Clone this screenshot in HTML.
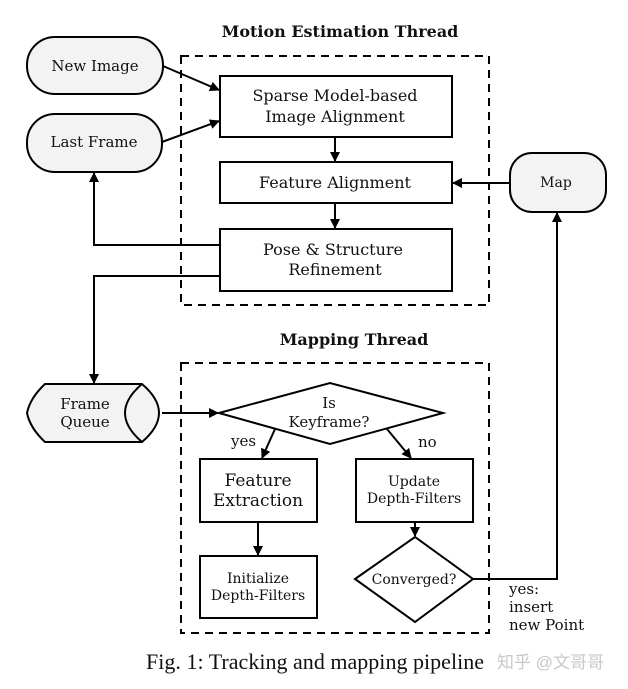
<!DOCTYPE html>
<html><head><meta charset="utf-8"><style>
html,body{margin:0;padding:0;background:#fff;}
svg{display:block;}
text{font-family:"DejaVu Serif","Liberation Serif",serif;fill:#111;}
</style></head><body>
<svg width="628" height="689" viewBox="0 0 628 689" xmlns="http://www.w3.org/2000/svg">
<defs>
<marker id="a" markerWidth="10" markerHeight="10" refX="9" refY="5" orient="auto" markerUnits="userSpaceOnUse">
<path d="M0,0 L10,5 L0,10 z" fill="#000"/></marker>
</defs>
<g stroke="#000" stroke-width="2" fill="none">
<rect x="181" y="56" width="308" height="249" stroke-dasharray="8,6"/>
<rect x="181" y="363" width="308" height="270" stroke-dasharray="8,6"/>
</g>
<text x="340" y="37" font-size="16" font-weight="bold" text-anchor="middle">Motion Estimation Thread</text>
<text x="354" y="345" font-size="16" font-weight="bold" text-anchor="middle">Mapping Thread</text>
<g stroke="#000" stroke-width="2" fill="#f3f3f3">
<rect x="27" y="37" width="136" height="57" rx="28"/>
<rect x="27" y="114" width="135" height="58" rx="28"/>
<rect x="510" y="153" width="96" height="59" rx="22"/>
<path d="M45,384 L142,384 Q176,413 142,442 L45,442 Q30,428 27,413 Q30,398 45,384 Z"/>
<path d="M142,384 Q108,413 142,442" fill="none"/>
</g>
<g stroke="#000" stroke-width="2" fill="#fff">
<rect x="220" y="76" width="232" height="61"/>
<rect x="220" y="162" width="232" height="41"/>
<rect x="220" y="229" width="232" height="62"/>
<polygon points="219,413 330,383 443,413 330,444"/>
<rect x="200" y="459" width="117" height="63"/>
<rect x="356" y="459" width="117" height="63"/>
<rect x="200" y="556" width="117" height="62"/>
<polygon points="355,579 415,537 473,579 415,622"/>
</g>
<g stroke="#000" stroke-width="2" fill="none">
<line x1="163" y1="66" x2="219" y2="90" marker-end="url(#a)"/>
<line x1="162" y1="142" x2="219" y2="121" marker-end="url(#a)"/>
<line x1="335" y1="137" x2="335" y2="161" marker-end="url(#a)"/>
<line x1="335" y1="203" x2="335" y2="228" marker-end="url(#a)"/>
<line x1="510" y1="183" x2="453" y2="183" marker-end="url(#a)"/>
<polyline points="220,245 94,245 94,173" marker-end="url(#a)"/>
<polyline points="220,276 94,276 94,383" marker-end="url(#a)"/>
<line x1="162" y1="413" x2="218" y2="413" marker-end="url(#a)"/>
<line x1="275" y1="429" x2="262" y2="458" marker-end="url(#a)"/>
<line x1="387" y1="429" x2="411" y2="458" marker-end="url(#a)"/>
<line x1="258" y1="522" x2="258" y2="555" marker-end="url(#a)"/>
<line x1="415" y1="522" x2="415" y2="536" marker-end="url(#a)"/>
<polyline points="473,579 557,579 557,213" marker-end="url(#a)"/>
</g>
<g font-size="16" text-anchor="middle">
<text x="95" y="71" font-size="15">New Image</text>
<text x="94" y="147" font-size="15">Last Frame</text>
<text x="556" y="187" font-size="14">Map</text>
<text x="335" y="101">Sparse Model-based</text>
<text x="335" y="122">Image Alignment</text>
<text x="335" y="188">Feature Alignment</text>
<text x="333" y="255">Pose &amp; Structure</text>
<text x="335" y="275">Refinement</text>
<text x="85" y="409" font-size="15">Frame</text>
<text x="85" y="427" font-size="15">Queue</text>
<text x="329" y="408" font-size="15">Is</text>
<text x="329" y="427" font-size="15">Keyframe?</text>
<text x="258" y="486" font-size="17">Feature</text>
<text x="258" y="506" font-size="17">Extraction</text>
<text x="414" y="486" font-size="14">Update</text>
<text x="414" y="503" font-size="14">Depth-Filters</text>
<text x="258" y="583" font-size="14">Initialize</text>
<text x="258" y="600" font-size="14">Depth-Filters</text>
<text x="414" y="584" font-size="14">Converged?</text>
</g>
<g font-size="15">
<text x="231" y="446">yes</text>
<text x="418" y="447">no</text>
<text x="509" y="594">yes:</text>
<text x="509" y="612">insert</text>
<text x="509" y="630">new Point</text>
</g>
<text x="146" y="669" font-size="22" textLength="338" style="font-family:'Liberation Serif',serif">Fig. 1: Tracking and mapping pipeline</text>
<text x="497" y="668" font-size="17" style="font-family:'Liberation Sans','Noto Sans CJK SC',sans-serif;fill:#c8c8c8">知乎 @文哥哥</text>
</svg>
</body></html>
